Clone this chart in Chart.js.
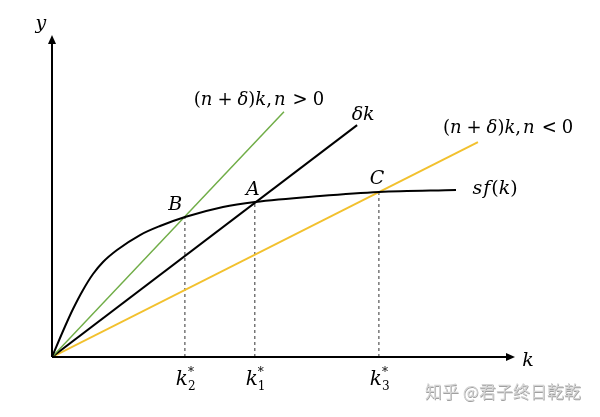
<!DOCTYPE html>
<html><head><meta charset="utf-8">
<script src="https://cdn.jsdelivr.net/npm/chart.js@4/dist/chart.umd.min.js"></script>
<style>html,body{margin:0;padding:0;background:#fff}</style>
</head><body>
<canvas id="c" width="600" height="417"></canvas>
<script>
// ---- data (model units) ----
const curveK = [0, 0.173, 0.324, 0.454, 0.670, 0.886, 1.102, 1.404, 1.901, 2.333, 2.873, 3.693, 4.384, 5.788, 7.063, 8.726];
const curveY = [0, 0.413, 0.761, 1.043, 1.457, 1.804, 2.065, 2.326, 2.652, 2.848, 3.043, 3.261, 3.370, 3.500, 3.587, 3.630];
const greenK = [0, 5.01];  const greenY = [0, 5.33];   // (n+δ)k, n>0
const deltaK = [0, 6.59];  const deltaY = [0, 5.04];   // δk
const goldK  = [0, 9.20];  const goldY  = [0, 4.67];   // (n+δ)k, n<0
const kStar  = [2.87, 4.38, 7.06];                      // k2*, k1*, k3*
const kStarY = [3.05, 3.37, 3.59];                      // heights on sf(k)
const kStarSub = ['2', '1', '3'];
const pointNames = ['B', 'A', 'C'];

const zip = (a, b) => a.map((v, i) => ({x: v, y: b[i]}));

const datasets = [
  {data: zip(curveK, curveY), borderColor: '#000', borderWidth: 2, cubicInterpolationMode: 'monotone'},
  {data: zip(greenK, greenY), borderColor: '#70ad47', borderWidth: 1.5},
  {data: zip(deltaK, deltaY), borderColor: '#000', borderWidth: 2},
  {data: zip(goldK, goldY), borderColor: '#f2c12e', borderWidth: 2},
];
kStar.forEach((k, i) => datasets.push({
  data: [{x: k, y: 0}, {x: k, y: kStarY[i]}],
  borderColor: '#555', borderWidth: 1.2, borderDash: [3, 3]
}));
datasets.forEach(d => { d.showLine = true; d.pointRadius = 0; d.fill = false; });

const SERIF = "'DejaVu Serif', 'Liberation Serif', serif";
function drawRich(ctx, segs, cx, cy, size) {
  const fontOf = s => (s.it ? 'italic ' : '') + Math.round(size * (s.sub || s.sup ? 0.62 : 1)) + 'px ' + SERIF;
  const ws = segs.map(s => { ctx.font = fontOf(s); return ctx.measureText(s.t).width + (s.pad || 0) * 2; });
  let total = 0;
  segs.forEach((s, i) => { if (!s.stack) total += ws[i]; });
  let x = cx - total / 2;
  let lastX = x;
  ctx.textBaseline = 'alphabetic';
  ctx.textAlign = 'left';
  segs.forEach((s, i) => {
    ctx.font = fontOf(s);
    let y = cy + size * 0.36;
    if (s.sub) y += size * 0.26;
    if (s.sup) y -= size * 0.45;
    const px = s.stack ? lastX : x;
    ctx.fillText(s.t, px + (s.pad || 0), y);
    if (!s.stack) { lastX = x; x += ws[i]; }
  });
}

const longLabel = op => [{t: '('}, {t: 'n', it: 1}, {t: '+', pad: 5}, {t: 'δ', it: 1}, {t: ')'}, {t: 'k', it: 1}, {t: ','}, {t: 'n', it: 1, pad: 2}, {t: op, pad: 5}, {t: '0'}];
const labels = [
  {at: [-0.24, 7.28], size: 19, segs: [{t: 'y', it: 1}]},
  {at: [10.28, -0.04], size: 19, segs: [{t: 'k', it: 1}]},
  {at: [9.57, 3.70], size: 19, segs: [{t: 's', it: 1}, {t: 'f', it: 1, pad: 1}, {t: '('}, {t: 'k', it: 1}, {t: ')'}]},
  {at: [6.72, 5.30], size: 19, segs: [{t: 'δ', it: 1}, {t: 'k', it: 1}]},
  {at: [4.47, 5.63], size: 18, segs: longLabel('>')},
  {at: [9.85, 5.00], size: 18, segs: longLabel('<')},
];
const nameAt = [[2.66, 3.35], [4.34, 3.67], [7.02, 3.91]];

const overlay = {
  id: 'overlay',
  afterDatasetsDraw(chart) {
    const {ctx, scales: {x, y}} = chart;
    const ox = x.getPixelForValue(0), oy = y.getPixelForValue(0);
    const xr = x.getPixelForValue(x.max), yt = y.getPixelForValue(y.max);
    ctx.save();
    ctx.strokeStyle = '#000'; ctx.fillStyle = '#000'; ctx.lineWidth = 2;
    ctx.beginPath(); ctx.moveTo(ox, oy); ctx.lineTo(xr - 6, oy); ctx.stroke();
    ctx.beginPath(); ctx.moveTo(ox, oy); ctx.lineTo(ox, yt + 6); ctx.stroke();
    ctx.beginPath(); ctx.moveTo(xr, oy); ctx.lineTo(xr - 9, oy - 4); ctx.lineTo(xr - 9, oy + 4); ctx.closePath(); ctx.fill();
    ctx.beginPath(); ctx.moveTo(ox, yt); ctx.lineTo(ox - 4, yt + 9); ctx.lineTo(ox + 4, yt + 9); ctx.closePath(); ctx.fill();

    labels.forEach(l => drawRich(ctx, l.segs, x.getPixelForValue(l.at[0]), y.getPixelForValue(l.at[1]), l.size));
    pointNames.forEach((n, i) => drawRich(ctx, [{t: n, it: 1}], x.getPixelForValue(nameAt[i][0]), y.getPixelForValue(nameAt[i][1]), 19));
    kStar.forEach((k, i) => drawRich(ctx, [{t: 'k', it: 1}, {t: '*', sup: 1}, {t: kStarSub[i], sub: 1, stack: 1}], x.getPixelForValue(k), y.getPixelForValue(-0.45), 20));

    // watermark
    ctx.font = "17px 'Noto Sans CJK SC'";
    ctx.textAlign = 'center'; ctx.textBaseline = 'middle';
    ctx.fillStyle = '#a0a0a0';
    ctx.fillText('知乎 @君子终日乾乾', 503.5, 392.5);
    ctx.fillStyle = '#d4d4d4';
    ctx.fillText('知乎 @君子终日乾乾', 503, 392);
    ctx.restore();
  }
};

new Chart(document.getElementById('c'), {
  type: 'scatter',
  data: {datasets},
  options: {
    responsive: false, animation: false, devicePixelRatio: 1,
    layout: {padding: {left: 52, top: 35, right: 85, bottom: 60}},
    plugins: {legend: {display: false}, tooltip: {enabled: false}},
    scales: {
      x: {type: 'linear', min: 0, max: 10, display: false},
      y: {type: 'linear', min: 0, max: 7, display: false}
    }
  },
  plugins: [overlay]
});
</script>
</body></html>
